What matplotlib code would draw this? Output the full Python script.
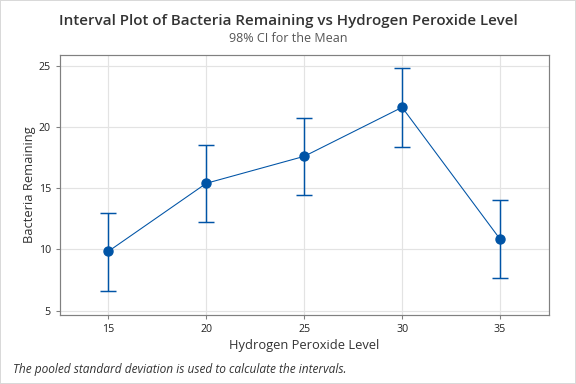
import matplotlib
matplotlib.use("Agg")
import matplotlib.pyplot as plt
from matplotlib.patches import Rectangle

levels = [15, 20, 25, 30, 35]
means = [9.85, 15.4, 17.6, 21.6, 10.85]
lower = [6.6, 12.2, 14.45, 18.4, 7.65]
upper = [13.0, 18.55, 20.75, 24.8, 14.0]

plt.rcParams["font.family"] = ["Open Sans", "DejaVu Sans"]
blue = "#0054A6"

fig = plt.figure(figsize=(6, 4), dpi=96)
ax = fig.add_axes([0.1033, 0.1797, 0.8497, 0.678])

err = [[m - lo for m, lo in zip(means, lower)], [hi - m for m, hi in zip(means, upper)]]
ax.errorbar(levels, means, yerr=err, fmt="none", ecolor=blue, elinewidth=1.1,
            capsize=6.3, capthick=1.1, zorder=3)
ax.plot(levels, means, color=blue, linewidth=0.8, zorder=3)
ax.plot(levels, means, "o", color=blue, markersize=6.8, zorder=4)

ax.set_xlim(12.5, 37.5)
ax.set_ylim(4.65, 25.9)
ax.set_xticks(levels)
ax.set_yticks([5, 10, 15, 20, 25])
ax.grid(True, color="#e3e3e3", linewidth=0.9, zorder=0)
ax.set_axisbelow(True)
for s in ax.spines.values():
    s.set_color("#808080")
    s.set_linewidth(0.9)
ax.tick_params(labelsize=8, colors="#808080", labelcolor="#222222", length=3, width=0.8)

fig.text(0.5287, 1 - 346 / 384, "Hydrogen Peroxide Level", ha="center", va="center",
         fontsize=9.7, color="#333333")
fig.text(30 / 576, 1 - 185 / 384, "Bacteria Remaining", ha="center", va="center", rotation=90,
         fontsize=9.7, color="#333333")

fig.text(0.5, 0.946, "Interval Plot of Bacteria Remaining vs Hydrogen Peroxide Level",
         ha="center", va="center", fontsize=11.3, fontweight="semibold", color="#333333")
fig.text(0.5, 0.9, "98% CI for the Mean", ha="center", va="center", fontsize=9.4, color="#555555")
fig.text(13 / 576, 1 - 370 / 384, "The pooled standard deviation is used to calculate the intervals.",
         ha="left", va="center", fontsize=8.9, style="italic", color="#333333")

fig.patches.append(Rectangle((0, 0), 1, 1, transform=fig.transFigure, fill=False,
                             edgecolor="#d9d9d9", linewidth=1.5))

fig.savefig("out.png", dpi=96)
